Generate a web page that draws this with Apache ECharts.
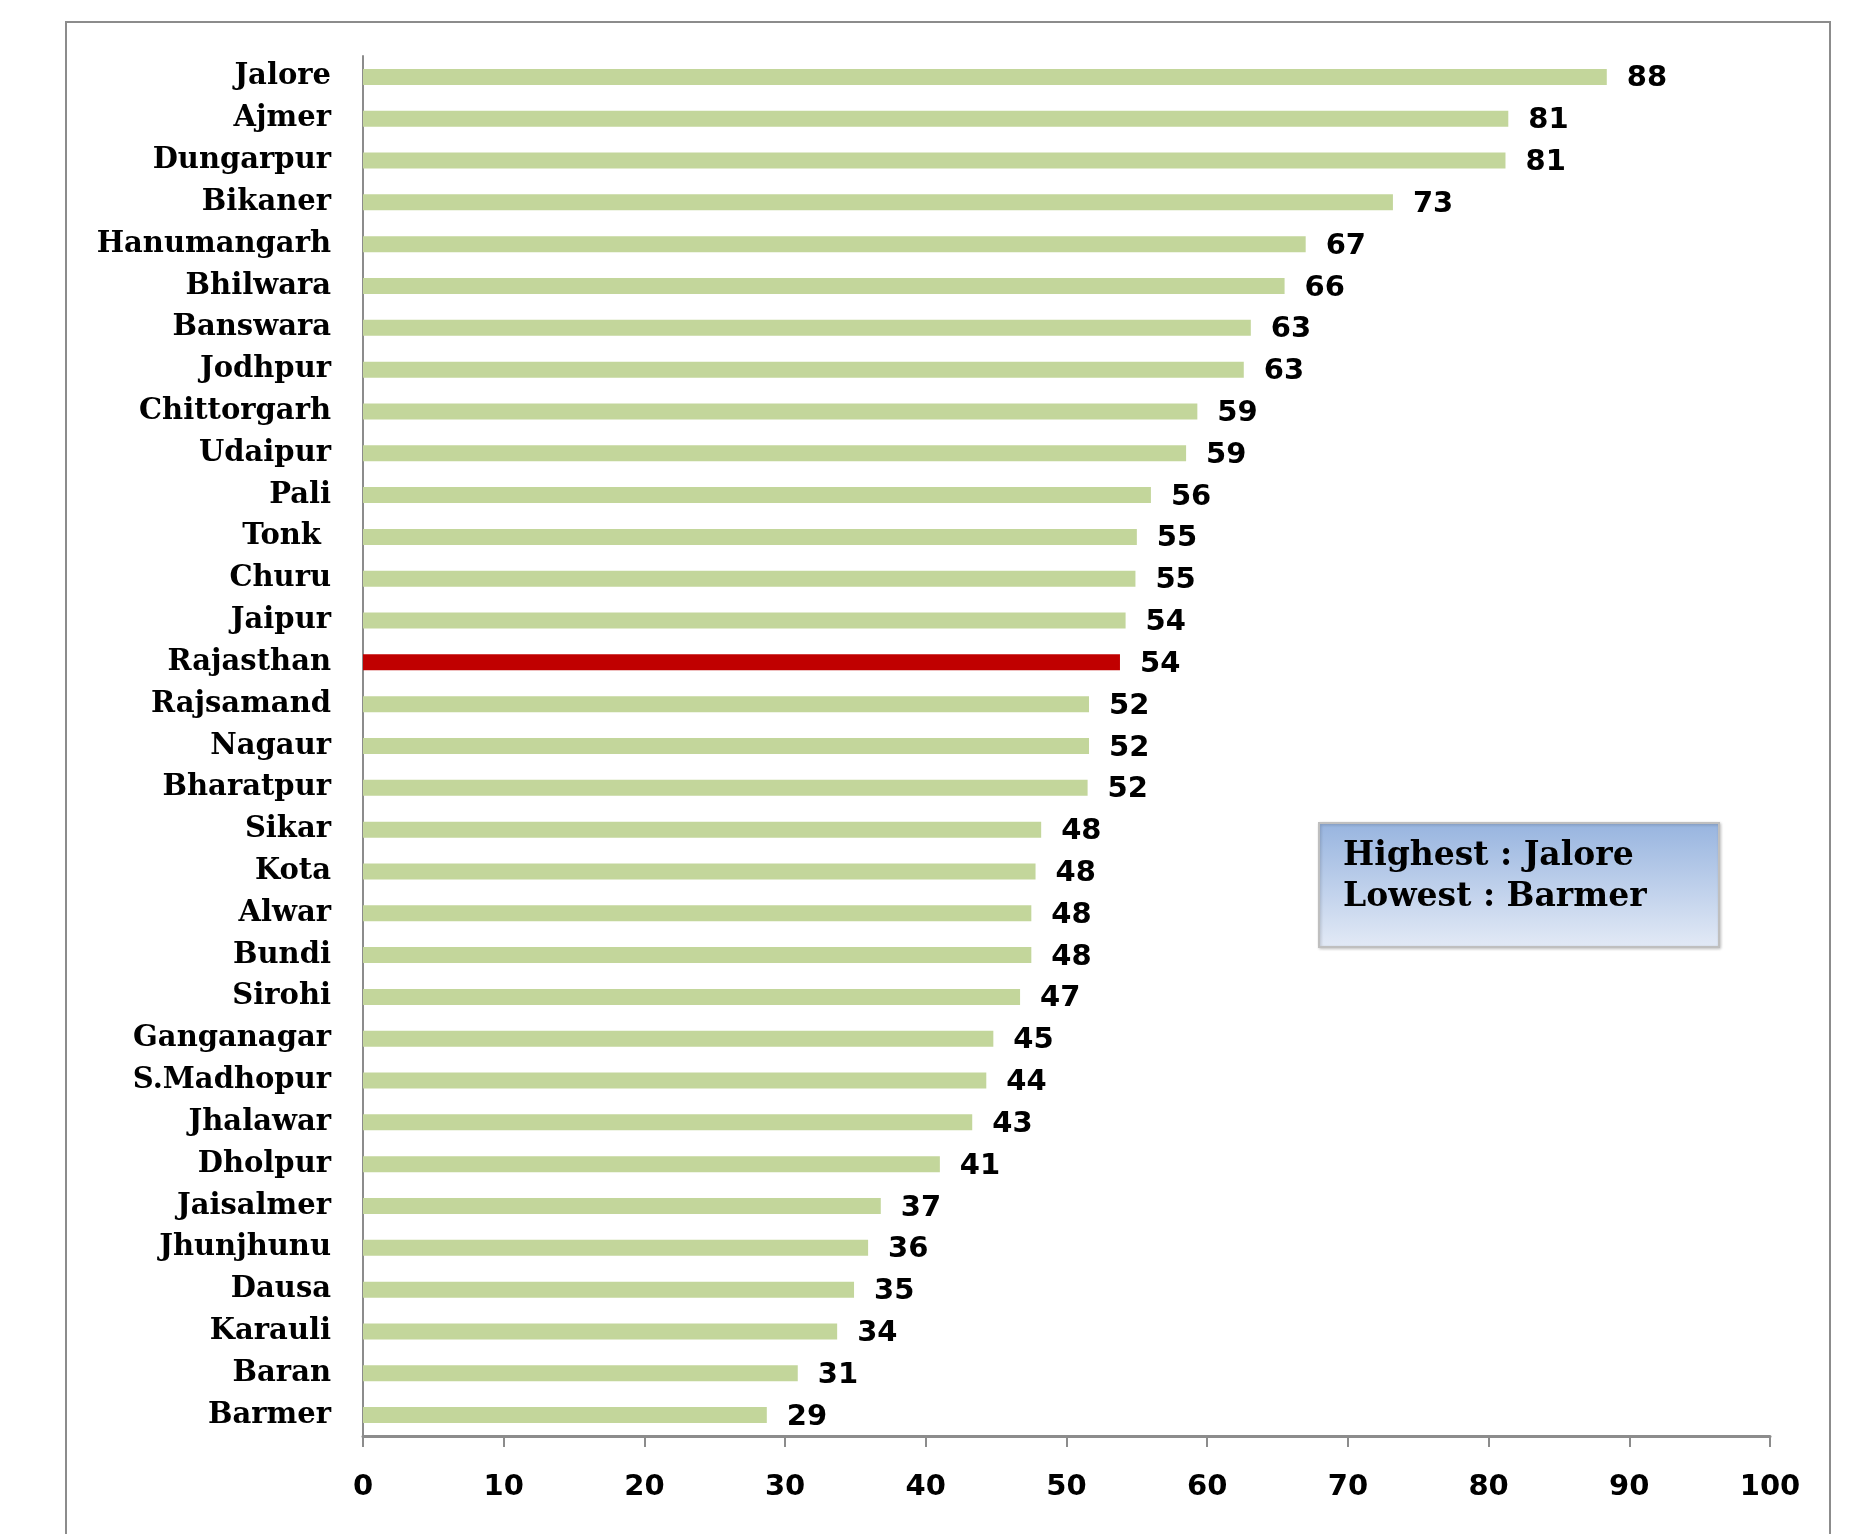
<!DOCTYPE html>
<html>
<head>
<meta charset="utf-8">
<script src="https://cdn.jsdelivr.net/npm/echarts@6/dist/echarts.min.js"></script>
<style>
html,body{margin:0;padding:0;background:#fff;}
#chart{width:1854px;height:1534px;}
</style>
</head>
<body>
<div id="chart"></div>
<script>
const districts = ["Jalore","Ajmer","Dungarpur","Bikaner","Hanumangarh","Bhilwara","Banswara","Jodhpur","Chittorgarh","Udaipur","Pali","Tonk ","Churu","Jaipur","Rajasthan","Rajsamand","Nagaur","Bharatpur","Sikar","Kota","Alwar","Bundi","Sirohi","Ganganagar","S.Madhopur","Jhalawar","Dholpur","Jaisalmer","Jhunjhunu","Dausa","Karauli","Baran","Barmer"];
const values = [88.4,81.4,81.2,73.2,67.0,65.5,63.1,62.6,59.3,58.5,56.0,55.0,54.9,54.2,53.8,51.6,51.6,51.5,48.2,47.8,47.5,47.5,46.7,44.8,44.3,43.3,41.0,36.8,35.9,34.9,33.7,30.9,28.7];
const valueLabels = [88,81,81,73,67,66,63,63,59,59,56,55,55,54,54,52,52,52,48,48,48,48,47,45,44,43,41,37,36,35,34,31,29];
const xTicks = [0,10,20,30,40,50,60,70,80,90,100];
const highlight = "Rajasthan";
const noteLines = ["Highest : Jalore","Lowest : Barmer"];

const chart = echarts.init(document.getElementById('chart'));
const serifFont = '"DejaVu Serif", serif';
const sansFont = '"DejaVu Sans", sans-serif';

chart.setOption({
  animation: false,
  backgroundColor: '#ffffff',
  grid: {left: 363, right: 84, top: 56, bottom: 98, containLabel: false},
  xAxis: {
    type: 'value',
    min: xTicks[0], max: xTicks[xTicks.length-1], interval: 10,
    axisLine: {show: true, lineStyle: {color: '#8c8c8c', width: 3}},
    axisTick: {show: true, inside: false, length: 11, lineStyle: {color: '#8c8c8c', width: 2}},
    splitLine: {show: false},
    axisLabel: {margin: 37, color: '#000', fontFamily: sansFont, fontWeight: 'bold', fontSize: 29}
  },
  yAxis: {
    type: 'category',
    data: districts,
    inverse: true,
    axisLine: {show: true, lineStyle: {color: '#8c8c8c', width: 2}},
    axisTick: {show: false},
    axisLabel: {margin: 32, color: '#000', fontFamily: serifFont, fontWeight: 'bold', fontSize: 29}
  },
  series: [{
    type: 'bar',
    barWidth: 16,
    data: values.map((v, i) => ({
      value: v,
      itemStyle: {color: districts[i] === highlight ? '#C00000' : '#C3D69B'}
    })),
    label: {
      show: true, position: 'right', distance: 20, offset: [0, 2],
      color: '#000', fontFamily: sansFont, fontWeight: 'bold', fontSize: 29,
      formatter: p => String(valueLabels[p.dataIndex])
    }
  }],
  graphic: [
    {
      type: 'rect', z: -10, silent: true,
      shape: {x: 66, y: 22, width: 1764, height: 1600},
      style: {fill: 'none', stroke: '#8c8c8c', lineWidth: 2}
    },
    {
      type: 'group', left: 1318, top: 822, z: 100,
      children: [
        {
          type: 'rect',
          shape: {x: 0, y: 0, width: 400, height: 124},
          style: {
            fill: new echarts.graphic.LinearGradient(0, 0, 0, 1, [
              {offset: 0, color: '#97b4df'},
              {offset: 1, color: '#e3eaf6'}
            ]),
            stroke: '#bfbfbf', lineWidth: 2,
            shadowBlur: 3, shadowColor: 'rgba(0,0,0,0.2)', shadowOffsetX: 1, shadowOffsetY: 1
          }
        },
        {
          type: 'text', x: 24, y: 13,
          style: {
            text: noteLines.join('\n'),
            fill: '#000', font: 'bold 33px "DejaVu Serif", serif',
            lineHeight: 41
          }
        }
      ]
    }
  ]
});
</script>
</body>
</html>
